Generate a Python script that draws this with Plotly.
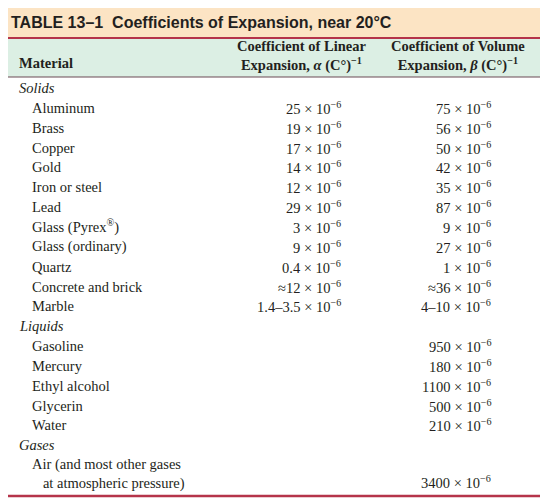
import plotly.graph_objects as go

title = "TABLE 13–1  Coefficients of Expansion, near 20°C"
headers = ["Material", "Coefficient of Linear<br>Expansion, <b><i>α</i></b> (C°)<sup>−1</sup>",
           "Coefficient of Volume<br>Expansion, <b><i>β</i></b> (C°)<sup>−1</sup>"]
groups = ["Solids", "Liquids", "Gases"]
materials = [
    ["Aluminum", "Brass", "Copper", "Gold", "Iron or steel", "Lead", "Glass (Pyrex<sup>®</sup>)",
     "Glass (ordinary)", "Quartz", "Concrete and brick", "Marble"],
    ["Gasoline", "Mercury", "Ethyl alcohol", "Glycerin", "Water"],
    ["Air (and most other gases<br>   at atmospheric pressure)"],
]
linear = [
    ["25", "19", "17", "14", "12", "29", "3", "9", "0.4", "≈12", "1.4–3.5"],
    ["", "", "", "", ""],
    [""],
]
volume = [
    ["75", "56", "50", "42", "35", "87", "9", "27", "1", "≈36", "4–10"],
    ["950", "180", "1100", "500", "210"],
    ["3400"],
]
exp_suffix = " × 10<sup>−6</sup>"

W, H = 548, 504
OFF = 8  # page body margin
red = "#B5344A"
shapes = [
    dict(type="rect", x0=4, x1=543, y0=5, y1=38, fillcolor="#FCE4C4", line_width=0, layer="below"),
    dict(type="rect", x0=4, x1=543, y0=38, y1=77, fillcolor="#DCEFE4", line_width=0, layer="below"),
    dict(type="line", x0=4, x1=543, y0=5, y1=5, line=dict(color=red, width=2.5)),
    dict(type="line", x0=4, x1=543, y0=38, y1=38, line=dict(color=red, width=2)),
    dict(type="line", x0=4, x1=543, y0=77, y1=77, line=dict(color="#6b4a55", width=1.2)),
    dict(type="line", x0=4, x1=543, y0=496, y1=496, line=dict(color=red, width=2.5)),
]
serif = "Liberation Serif"
ann = []
ann.append(dict(x=9, y=22, text="<b>" + title + "</b>", xanchor="left", yanchor="middle",
                font=dict(family="Liberation Sans", size=16, color="#231f20")))
ann.append(dict(x=17, y=63, text="<b>" + headers[0] + "</b>", xanchor="left", yanchor="middle",
                font=dict(family=serif, size=14.5, color="#231f20")))
ann.append(dict(x=301, y=56, text="<b>" + headers[1] + "</b>", xanchor="center", yanchor="middle",
                font=dict(family=serif, size=14.5, color="#231f20")))
ann.append(dict(x=458, y=56, text="<b>" + headers[2] + "</b>", xanchor="center", yanchor="middle",
                font=dict(family=serif, size=14.5, color="#231f20")))

body = dict(family=serif, size=14.5, color="#231f20")
y = 88
step = 19.85
for g, mats, lin, vol in zip(groups, materials, linear, volume):
    ann.append(dict(x=17, y=y, text="<i>" + g + "</i>", xanchor="left", yanchor="middle", font=body))
    y += step
    for m, l, v in zip(mats, lin, vol):
        two = "<br>" in m
        ann.append(dict(x=30, y=y + (8.5 if two else 0), text=m.replace("   ", "&nbsp;&nbsp;&nbsp;"),
                        xanchor="left", yanchor="middle", font=body, align="left"))
        yv = y + 17 if two else y
        if l:
            ann.append(dict(x=343, y=yv, text=l + exp_suffix, xanchor="right", yanchor="middle", font=body))
        if v:
            ann.append(dict(x=493, y=yv, text=v + exp_suffix, xanchor="right", yanchor="middle", font=body))
        y += step * (1.9 if two else 1)

for a in ann:
    a.update(xref="x", yref="y", showarrow=False)

fig = go.Figure()
fig.update_layout(width=W, height=H, margin=dict(l=0, r=0, t=0, b=0),
                  paper_bgcolor="white", plot_bgcolor="white",
                  xaxis=dict(range=[OFF, W + OFF], visible=False, fixedrange=True),
                  yaxis=dict(range=[H + OFF, OFF], visible=False, fixedrange=True),
                  shapes=shapes, annotations=ann, showlegend=False)
fig.write_html("out.html")
